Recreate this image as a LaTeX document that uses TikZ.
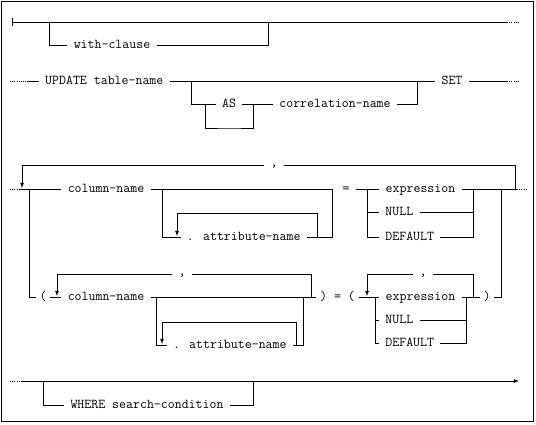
\documentclass[tikz,border=0pt]{standalone}
\usepackage{fontspec}
\begin{document}
\begin{tikzpicture}[>=latex, x=1pt, y=-1pt, line width=0.8pt,
  word/.style={font=\ttfamily\fontsize{13.5}{14}\selectfont, inner xsep=6pt, inner ysep=0pt, text height=7pt, text depth=0pt},
  sym/.style={word, inner xsep=3.5pt},
  sep/.style={word, text height=2pt},
  dots/.style={dash pattern=on 1pt off 1.2pt}]
\useasboundingbox (0,0) rectangle (536,424);
\draw (1.5,1.5) rectangle (533,421.5);

\coordinate (r1s) at (12,22); \coordinate (r1e) at (507,22); \coordinate (r1d) at (519,22);
\coordinate (r1a) at (49,22); \coordinate (r1b) at (268,22);
\node[word] (with) at (112,45) {with-clause};
\draw[|-] (r1s)--(r1e);
\draw[dots] (r1e)--(r1d);
\draw (r1a) |- (with.west);
\draw (with.east) -| (r1b);

\coordinate (r2o) at (10,81); \coordinate (r2s) at (27,81);
\coordinate (r2a) at (191,81); \coordinate (r2b) at (417,81);
\coordinate (r2c) at (253,104); \coordinate (r2d) at (205,104); \coordinate (r2low) at (229,128);
\coordinate (r2e) at (507,81); \coordinate (r2f) at (519,81);
\node[word] (upd) at (104.3,81) {UPDATE table-name};
\node[word] (as) at (229,104) {AS};
\node[word] (corr) at (335,104) {correlation-name};
\node[word] (set) at (452,81) {SET};
\draw[dots] (r2o)--(r2s);
\draw (r2s)--(upd.west);
\draw (upd.east)--(set.west);
\draw (r2a) |- (as.west);
\draw (as.east)--(corr.west);
\draw (corr.east) -| (r2b);
\draw (r2d) |- (r2low) -| (r2c);
\draw (set.east)--(r2e);
\draw[dots] (r2e)--(r2f);

\coordinate (r3o) at (10,189); \coordinate (r3s) at (20,189);
\coordinate (r3a) at (162,189); \coordinate (r3b) at (29,189); \coordinate (r3c) at (332,189);
\coordinate (r3d) at (367,189); \coordinate (r3e) at (473,189); \coordinate (r3f) at (515,189);
\coordinate (r3g) at (517,189); \coordinate (r3t) at (526,189); \coordinate (r3u) at (501,189);
\coordinate (r3h) at (317,237); \coordinate (r3i) at (177,213); \coordinate (r3j) at (177,236);
\coordinate (r3k) at (22,188);
\node[word] (col) at (106,189) {column-name};
\node[word] (attr) at (243.7,237) {. attribute-name};
\node[word] (eq) at (346,189) {=};
\node[word] (expr) at (420.5,189) {expression};
\node[word, anchor=west] (null) at (379,212) {NULL};
\node[word, anchor=west] (dflt) at (379,237) {DEFAULT};
\node[sep] (comma) at (274,165) {,};
\draw[dots] (r3o)--(r3s);
\draw (r3s)--(col.west);
\draw (col.east)--(r3c);
\draw (r3a) |- (attr.west);
\draw (attr.east) -| (r3c);
\draw[->] (r3h) |- (r3i)--(r3j);
\draw (eq.east)--(expr.west);
\draw (r3d) |- (null.west);
\draw (r3d) |- (dflt.west);
\draw (null.east) -| (r3e);
\draw (dflt.east) -| (r3e);
\draw (expr.east)--(r3g);
\draw[dots] (r3g)--(r3t);
\draw (r3f) |- (comma.east);
\draw[->] (comma.west) -| (r3k);

\coordinate (r4a) at (156,297); \coordinate (r4c) at (303,297); \coordinate (r4l) at (311,297);
\coordinate (r4k) at (57,296); \coordinate (r4h) at (296,345); \coordinate (r4i) at (162,322);
\coordinate (r4j) at (162,344); \coordinate (r4d) at (375,297); \coordinate (r4e) at (466,297);
\coordinate (r4m) at (367,296); \coordinate (r4n) at (473,297);
\node[sym] (lp) at (43,297) {(};
\node[word] (col2) at (106,297) {column-name};
\node[word] (attr2) at (229.8,345) {. attribute-name};
\node[sym] (rpeq) at (337.5,297) {) = (};
\node[word] (expr2) at (420.5,297) {expression};
\node[word, anchor=west] (null2) at (379,320) {NULL};
\node[word, anchor=west] (dflt2) at (379,343) {DEFAULT};
\node[sym] (rp) at (487,297) {)};
\node[sep] (comma2) at (182,274) {,};
\node[sep] (comma3) at (423,274) {,};
\draw (r3b) |- (lp.west);
\draw (lp.east)--(col2.west);
\draw (col2.east)--(rpeq.west);
\draw (r4a) |- (attr2.west);
\draw (attr2.east) -| (r4c);
\draw[->] (r4h) |- (r4i)--(r4j);
\draw (r4l) |- (comma2.east);
\draw[->] (comma2.west) -| (r4k);
\draw (rpeq.east)--(expr2.west);
\draw (r4d) |- (null2.west);
\draw (r4d) |- (dflt2.west);
\draw (null2.east) -| (r4e);
\draw (dflt2.east) -| (r4e);
\draw (expr2.east)--(rp.west);
\draw (r4n) |- (comma3.east);
\draw[->] (comma3.west) -| (r4m);
\draw (rp.east) -| (r3u);

\coordinate (r5o) at (10,381); \coordinate (r5s) at (22,381); \coordinate (r5e) at (519,381);
\coordinate (r5a) at (43,381); \coordinate (r5b) at (253,381);
\node[word] (where) at (147,405) {WHERE search-condition};
\draw[dots] (r5o)--(r5s);
\draw[->] (r5s)--(r5e);
\draw (r5a) |- (where.west);
\draw (where.east) -| (r5b);
\end{tikzpicture}
\end{document}
